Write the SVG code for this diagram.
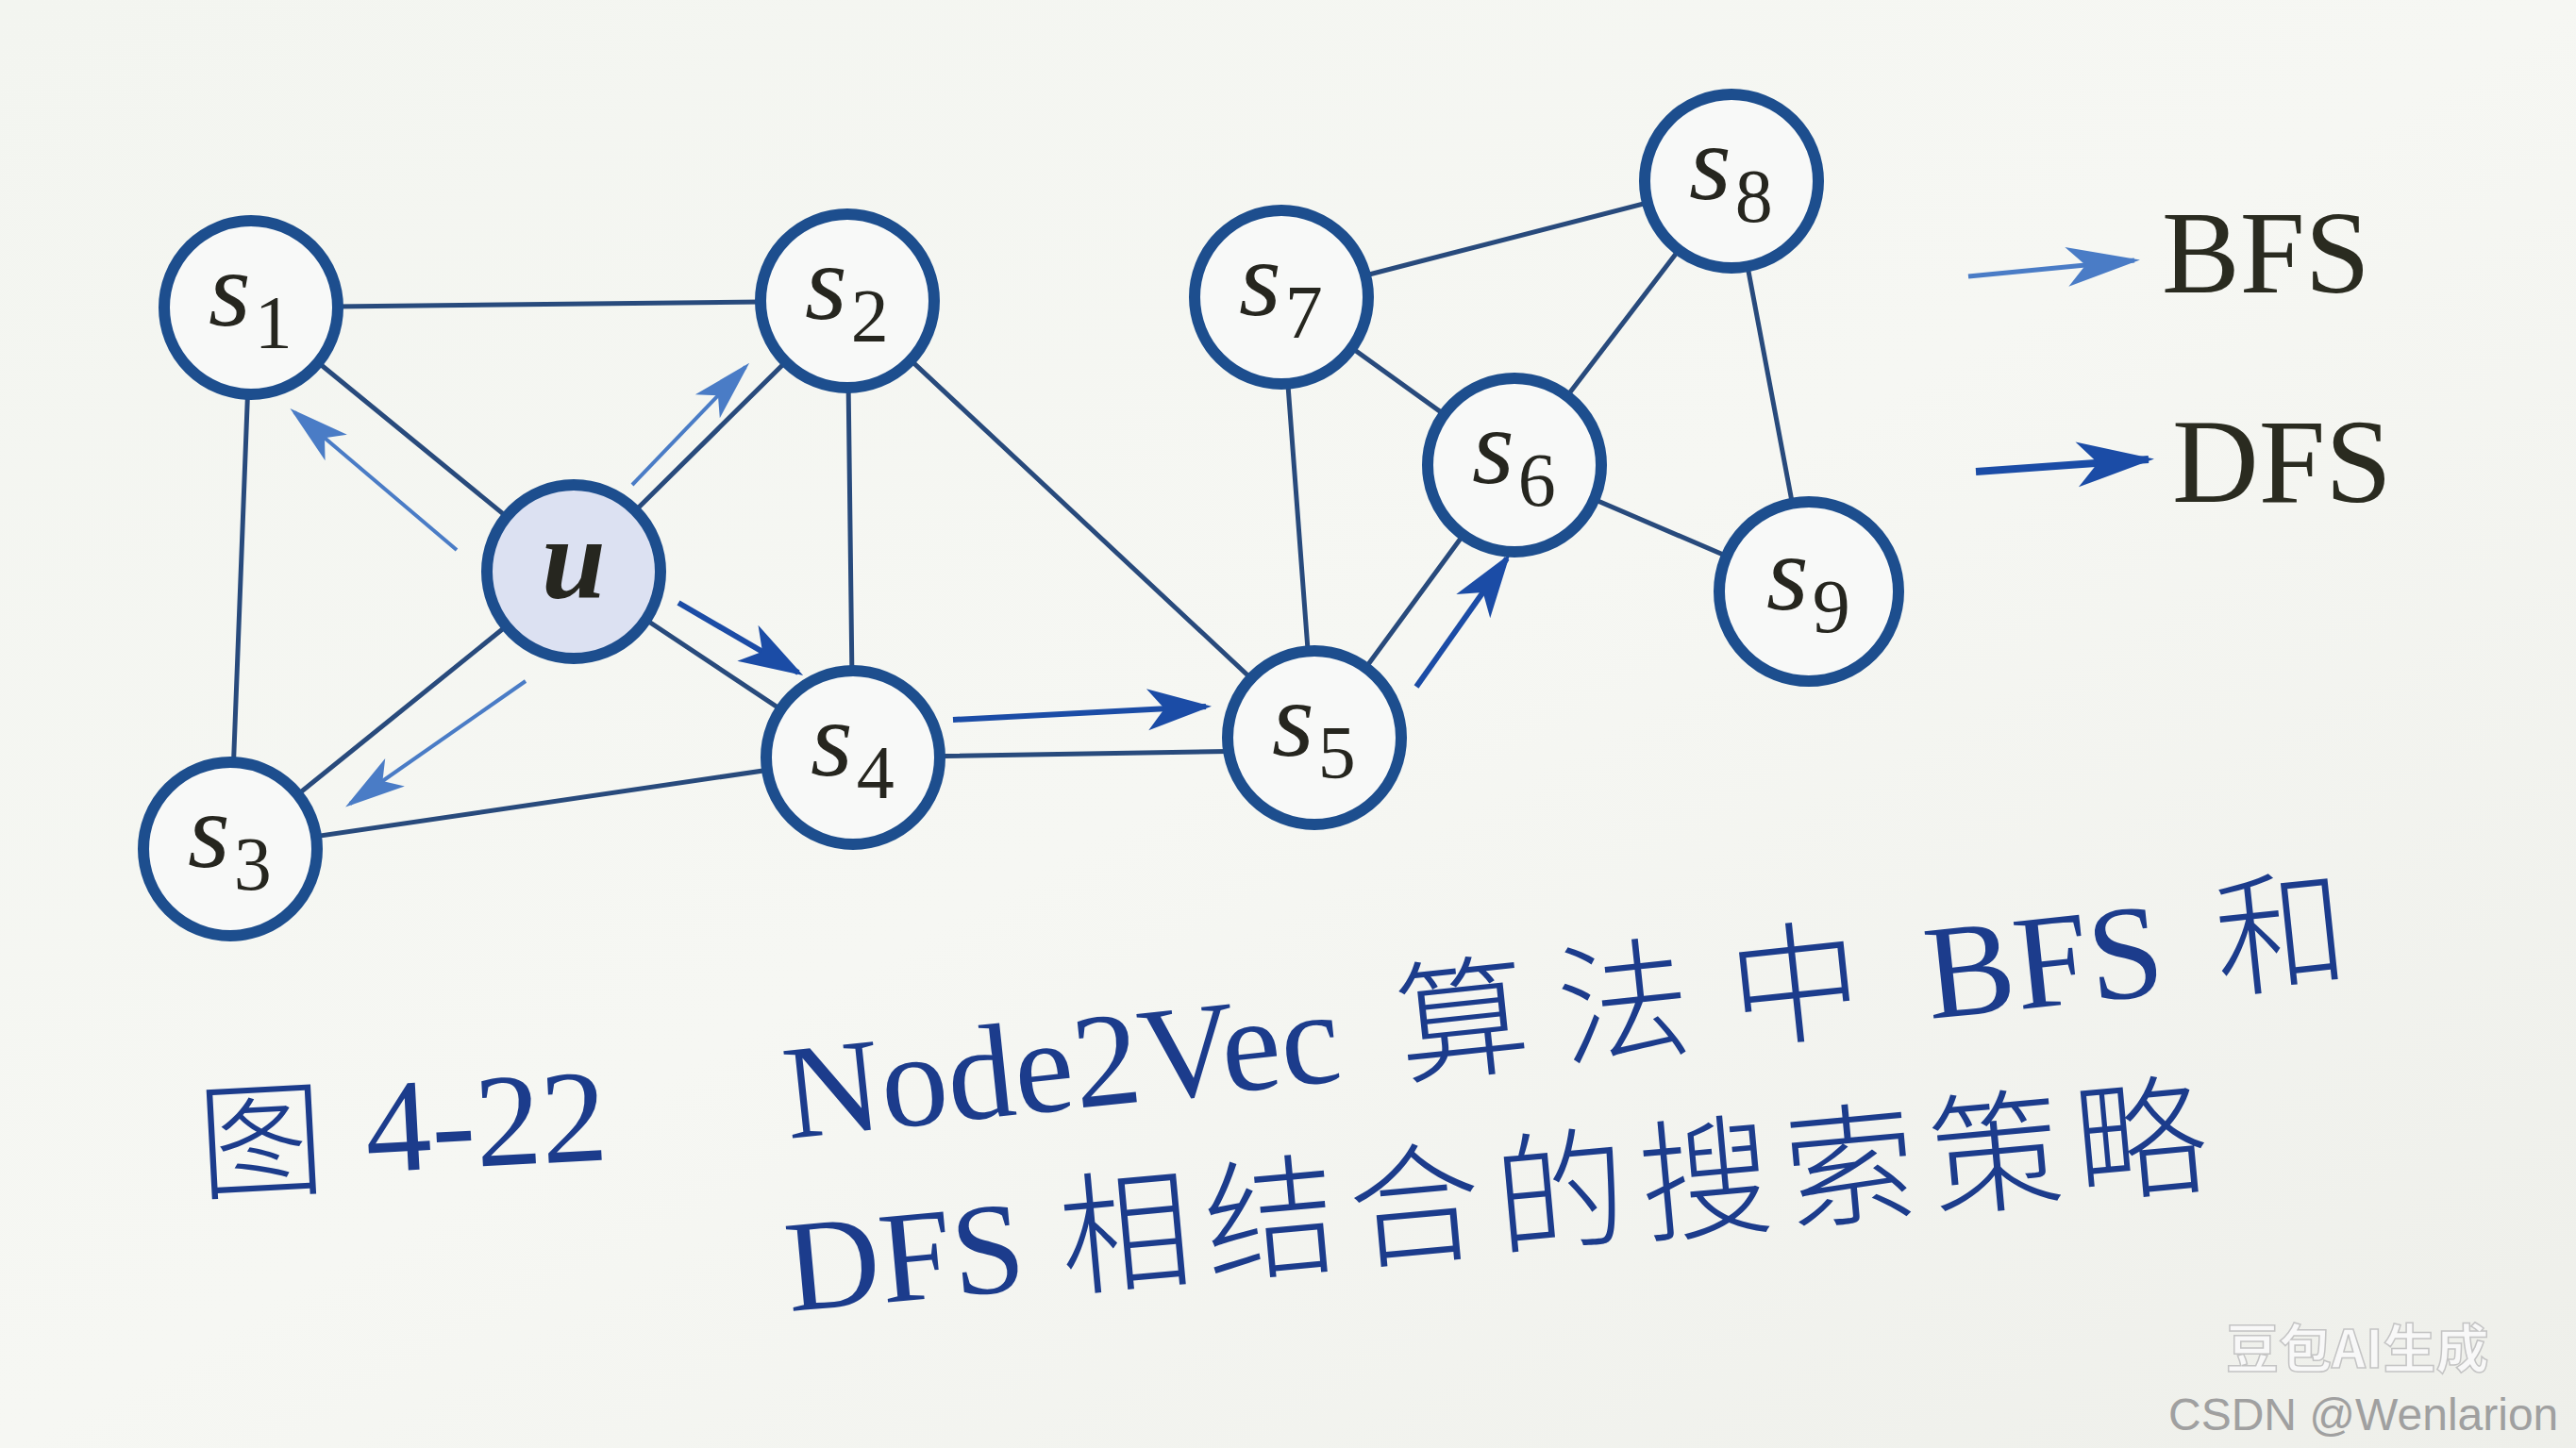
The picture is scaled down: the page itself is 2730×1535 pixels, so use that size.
<svg xmlns="http://www.w3.org/2000/svg" width="2730" height="1535" viewBox="0 0 2730 1535">
<defs>
<linearGradient id="paper" x1="0" y1="0" x2="1" y2="1">
<stop offset="0" stop-color="#f3f5f0"/>
<stop offset="0.5" stop-color="#f6f7f3"/>
<stop offset="1" stop-color="#eeefea"/>
</linearGradient>
<marker id="hBFS" viewBox="-64 -22 72 44" markerWidth="72" markerHeight="44" refX="0" refY="0" orient="auto" markerUnits="userSpaceOnUse">
<path d="M6,0 L-58,-18 L-42,0 L-58,18 Z" fill="#4a7cc6"/>
</marker>
<marker id="hDFS" viewBox="-68 -26 76 52" markerWidth="76" markerHeight="52" refX="0" refY="0" orient="auto" markerUnits="userSpaceOnUse">
<path d="M6,0 L-62,-22 L-44,0 L-62,22 Z" fill="#1b4ca6"/>
</marker>
<marker id="lBFS" viewBox="-80 -26 88 52" markerWidth="88" markerHeight="52" refX="0" refY="0" orient="auto" markerUnits="userSpaceOnUse">
<path d="M6,0 L-72,-21 L-52,0 L-72,21 Z" fill="#4a7cc6"/>
</marker>
<marker id="lDFS" viewBox="-84 -28 92 56" markerWidth="92" markerHeight="56" refX="0" refY="0" orient="auto" markerUnits="userSpaceOnUse">
<path d="M6,0 L-76,-24 L-54,0 L-76,24 Z" fill="#1b4ca6"/>
</marker>
</defs>
<style>
.edge{stroke:#284a7c;stroke-width:5;fill:none;stroke-linecap:round}
.bfs{stroke:#4a7cc6;stroke-width:4;fill:none;marker-end:url(#hBFS)}
.dfs{stroke:#1b4ca6;stroke-width:6;fill:none;marker-end:url(#hDFS)}
.node{fill:#f8f9f8;stroke:#1d4e8e;stroke-width:12}
.unode{fill:#dce1f2;stroke:#1d4e8e;stroke-width:12}
.lbl{font-family:"Liberation Serif","Times New Roman",serif;fill:#26261f}
.s{font-style:italic;font-size:115px}
.sub{font-size:80px}
.leg{font-family:"Liberation Serif",serif;fill:#2a2b20}
.cap{fill:#1c3c8c}
.lat{font-family:"Liberation Serif",serif;font-size:142px}
.cjk{font-family:"Noto Sans CJK SC","Noto Sans CJK JP",sans-serif;font-size:140px;font-weight:300}
</style>
<rect width="2730" height="1535" fill="url(#paper)"/>

<g id="edges">
<line class="edge" x1="266" y1="326" x2="898" y2="319"/>
<line class="edge" x1="266" y1="326" x2="244" y2="900"/>
<line class="edge" x1="266" y1="326" x2="608" y2="606"/>
<line class="edge" x1="608" y1="606" x2="898" y2="319"/>
<line class="edge" x1="608" y1="606" x2="244" y2="900"/>
<line class="edge" x1="608" y1="606" x2="904" y2="803"/>
<line class="edge" x1="898" y1="319" x2="904" y2="803"/>
<line class="edge" x1="898" y1="319" x2="1393" y2="782"/>
<line class="edge" x1="244" y1="900" x2="904" y2="803"/>
<line class="edge" x1="904" y1="803" x2="1393" y2="795"/>
<line class="edge" x1="1393" y1="782" x2="1358" y2="315"/>
<line class="edge" x1="1393" y1="782" x2="1605" y2="493"/>
<line class="edge" x1="1358" y1="315" x2="1605" y2="493"/>
<line class="edge" x1="1358" y1="315" x2="1835" y2="192"/>
<line class="edge" x1="1835" y1="192" x2="1605" y2="493"/>
<line class="edge" x1="1835" y1="192" x2="1917" y2="627"/>
<line class="edge" x1="1605" y1="493" x2="1917" y2="627"/>
</g>

<g id="walks">
<line class="bfs" x1="484" y1="583" x2="312" y2="437"/>
<line class="bfs" x1="670" y1="514" x2="790" y2="389"/>
<line class="bfs" x1="557" y1="722" x2="371" y2="852"/>
<line class="dfs" x1="719" y1="639" x2="846" y2="713"/>
<line class="dfs" x1="1010" y1="763" x2="1278" y2="749"/>
<line class="dfs" x1="1501" y1="728" x2="1597" y2="592"/>
</g>

<g id="s1"><circle class="node" cx="266" cy="326" r="92"/><text class="lbl" x="221" y="345"><tspan class="s">s</tspan><tspan class="sub" dx="4" dy="24">1</tspan></text></g>
<g id="s2"><circle class="node" cx="898" cy="319" r="92"/><text class="lbl" x="853" y="338"><tspan class="s">s</tspan><tspan class="sub" dx="4" dy="24">2</tspan></text></g>
<g id="u"><circle class="unode" cx="608" cy="606" r="92"/><text class="lbl" x="608" y="634" text-anchor="middle"><tspan class="s" style="font-size:122px;font-weight:bold">u</tspan></text></g>
<g id="s3"><circle class="node" cx="244" cy="900" r="92"/><text class="lbl" x="199" y="919"><tspan class="s">s</tspan><tspan class="sub" dx="4" dy="24">3</tspan></text></g>
<g id="s4"><circle class="node" cx="904" cy="803" r="92"/><text class="lbl" x="859" y="822"><tspan class="s">s</tspan><tspan class="sub" dx="4" dy="24">4</tspan></text></g>
<g id="s5"><circle class="node" cx="1393" cy="782" r="92"/><text class="lbl" x="1348" y="801"><tspan class="s">s</tspan><tspan class="sub" dx="4" dy="24">5</tspan></text></g>
<g id="s7"><circle class="node" cx="1358" cy="315" r="92"/><text class="lbl" x="1313" y="334"><tspan class="s">s</tspan><tspan class="sub" dx="4" dy="24">7</tspan></text></g>
<g id="s6"><circle class="node" cx="1605" cy="493" r="92"/><text class="lbl" x="1560" y="512"><tspan class="s">s</tspan><tspan class="sub" dx="4" dy="24">6</tspan></text></g>
<g id="s8"><circle class="node" cx="1835" cy="192" r="92"/><text class="lbl" x="1790" y="211"><tspan class="s">s</tspan><tspan class="sub" dx="4" dy="24">8</tspan></text></g>
<g id="s9"><circle class="node" cx="1917" cy="627" r="95"/><text class="lbl" x="1872" y="646"><tspan class="s">s</tspan><tspan class="sub" dx="4" dy="24">9</tspan></text></g>

<g id="legend">
<line x1="2086" y1="293" x2="2262" y2="276" stroke="#4a7cc6" stroke-width="5" marker-end="url(#lBFS)"/>
<text class="leg" x="2291" y="310" font-size="124">BFS</text>
<line x1="2094" y1="500" x2="2277" y2="487" stroke="#1b4ca6" stroke-width="8" marker-end="url(#lDFS)"/>
<text class="leg" x="2302" y="532" font-size="127">DFS</text>
</g>

<g id="caption" class="cap">
<text transform="translate(212,1262) rotate(-3)"><tspan class="cjk" style="font-size:135px" x="0" y="0">图</tspan><tspan class="lat" style="font-size:140px" x="178" y="-10">4-22</tspan></text>
<text transform="translate(836,1207) rotate(-6)"><tspan class="lat" x="0">Node2Vec</tspan><tspan class="cjk" x="653">算</tspan><tspan class="cjk" x="825">法</tspan><tspan class="cjk" x="1008">中</tspan><tspan class="lat" x="1216">BFS</tspan><tspan class="cjk" x="1525">和</tspan></text>
<text transform="translate(837,1390) rotate(-5.2)"><tspan class="lat" style="font-size:138px" x="0">DFS</tspan><tspan class="cjk" x="292">相</tspan><tspan class="cjk" x="446">结</tspan><tspan class="cjk" x="600">合</tspan><tspan class="cjk" x="755">的</tspan><tspan class="cjk" x="909">搜</tspan><tspan class="cjk" x="1063">索</tspan><tspan class="cjk" x="1218">策</tspan><tspan class="cjk" x="1372">略</tspan></text>
</g>

<g id="watermark">
<text x="2359" y="1450" font-family="'Noto Sans CJK SC',sans-serif" font-weight="bold" font-size="56" fill="#f8f8f8" stroke="#c4c4c4" stroke-width="1.5">豆包AI生成</text>
<text x="2298" y="1516" font-family="'Liberation Sans',Arial,sans-serif" font-size="48" fill="#a0a0a0">CSDN @Wenlarion</text>
</g>
</svg>
